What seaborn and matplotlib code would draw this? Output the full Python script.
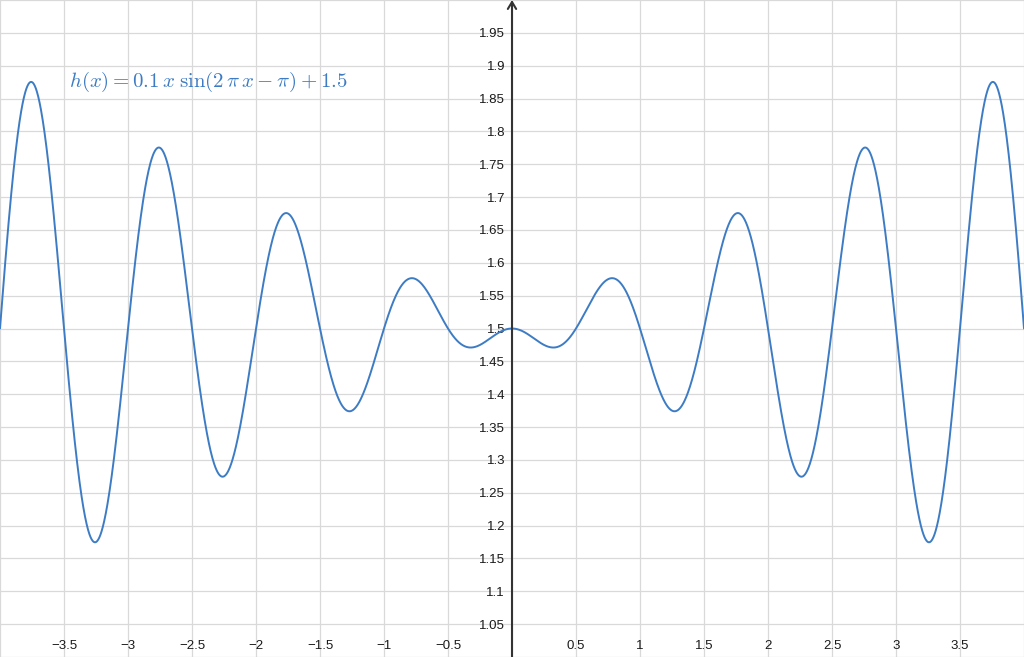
import numpy as np
import pandas as pd
import matplotlib
matplotlib.use("Agg")
import matplotlib.pyplot as plt
import seaborn as sns

# h(x) = a * x * sin(2*pi*x - pi) + c, as printed on the chart
amp = 0.1
offset = 1.5
x_range = (-4.0, 4.0)
y_range = (1.0, 2.0)

x_ticks = [-4, -3.5, -3, -2.5, -2, -1.5, -1, -0.5, 0, 0.5, 1, 1.5, 2, 2.5, 3, 3.5, 4]
x_labels = ["", "−3.5", "−3", "−2.5", "−2", "−1.5", "−1", "−0.5", "",
            "0.5", "1", "1.5", "2", "2.5", "3", "3.5", ""]
y_ticks = [round(1.0 + 0.05 * i, 2) for i in range(21)]
y_labels = ["" if v in (1.0, 2.0) else f"{v:g}" for v in y_ticks]

xs = np.linspace(x_range[0], x_range[1], 3000)
df = pd.DataFrame({"x": xs, "h": amp * xs * np.sin(2 * np.pi * xs - np.pi) + offset})

sns.set_style("white")
plt.rcParams["font.family"] = ["Liberation Sans", "DejaVu Sans"]
plt.rcParams["mathtext.fontset"] = "cm"

fig = plt.figure(figsize=(10.24, 6.57), dpi=100)
ax = fig.add_axes([0, 0, 1, 1])

line_color = "#3d7cc4"
sns.lineplot(data=df, x="x", y="h", ax=ax, color=line_color, linewidth=1.4, zorder=3)

ax.set_xlim(*x_range)
ax.set_ylim(*y_range)
ax.set_xticks(x_ticks)
ax.set_xticklabels(x_labels)
ax.set_yticks(y_ticks)
ax.set_yticklabels(y_labels)
ax.grid(True, color="#d9d9d9", linewidth=0.9)
ax.set_axisbelow(True)
ax.set_xlabel("")
ax.set_ylabel("")

for s in ["top", "right", "bottom"]:
    ax.spines[s].set_visible(False)
ax.spines["left"].set_position(("data", 0))
ax.spines["left"].set_visible(False)

ax.tick_params(axis="x", length=0, pad=-12, labelsize=9.5, colors="#1a1a1a")
ax.tick_params(axis="y", length=0, pad=5, labelsize=9.5, colors="#1a1a1a")

# y axis with arrow head
ax.annotate("", xy=(0, 2.0), xytext=(0, 1.0),
            arrowprops=dict(arrowstyle="->,head_length=0.5,head_width=0.3",
                            color="#333333", lw=1.5, shrinkA=0, shrinkB=0),
            zorder=4, annotation_clip=False)

ax.text(-3.46, 1.876, r"$h(x) = 0.1\,x\;\sin(2\,\pi\,x - \pi) + 1.5$",
        color=line_color, fontsize=15, va="center", ha="left")

fig.savefig("out.png", dpi=100)
